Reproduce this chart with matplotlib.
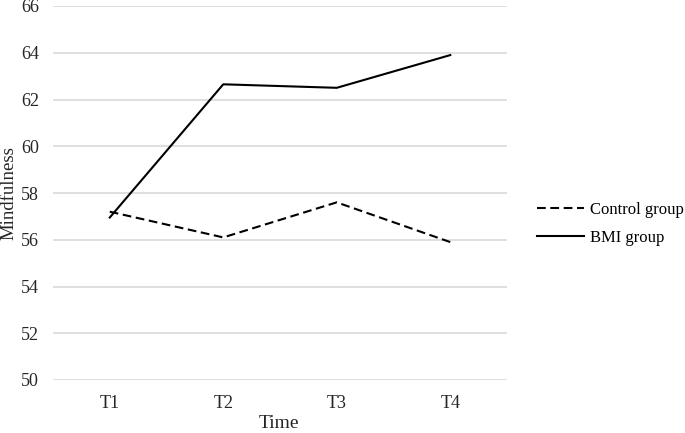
import matplotlib.pyplot as plt

plt.rcParams['font.family'] = ['Liberation Serif', 'DejaVu Serif']

times = ['T1', 'T2', 'T3', 'T4']
control = [57.2, 56.1, 57.6, 55.9]
bmi = [56.95, 62.65, 62.5, 63.9]

fig = plt.figure(figsize=(6.85, 4.33), dpi=100)
ax = fig.add_axes([53 / 685, 1 - 380 / 433, 454 / 685, 374 / 433])

x = range(len(times))
ax.plot(x, control, color='black', linestyle=(0, (4.2, 2.2)), linewidth=1.5, label='Control group')
ax.plot(x, bmi, color='black', linestyle='-', linewidth=1.5, label='BMI group')

ax.set_xlim(-0.5, 3.5)
ax.set_ylim(50, 66)
ax.set_yticks(range(50, 67, 2))
ax.set_xticks(list(x))
ax.set_xticklabels(times)
ax.yaxis.grid(True, color='#d9d9d9', linewidth=1.2)
ax.set_axisbelow(True)
for s in ax.spines.values():
    s.set_visible(False)
ax.tick_params(length=0, labelsize=13, colors='#262626')
ax.tick_params(axis='x', pad=11)
ax.tick_params(axis='y', pad=10)

# axis titles placed in figure pixels to keep them inside the canvas
fig.text(279 / 685, 1 - 423 / 433, 'Time', fontsize=14, color='#262626',
         ha='center', va='center')
fig.text(9 / 685, 1 - 193 / 433, 'Mindfulness', fontsize=13.5, color='#262626',
         ha='center', va='center', rotation=90)

ax.legend(loc='center left', bbox_to_anchor=(1.066, 0.417), frameon=False,
          fontsize=12, handlelength=2.8, handletextpad=0.36, labelspacing=0.7,
          borderaxespad=0.0, borderpad=0.0)

fig.savefig('out.png', dpi=100)
